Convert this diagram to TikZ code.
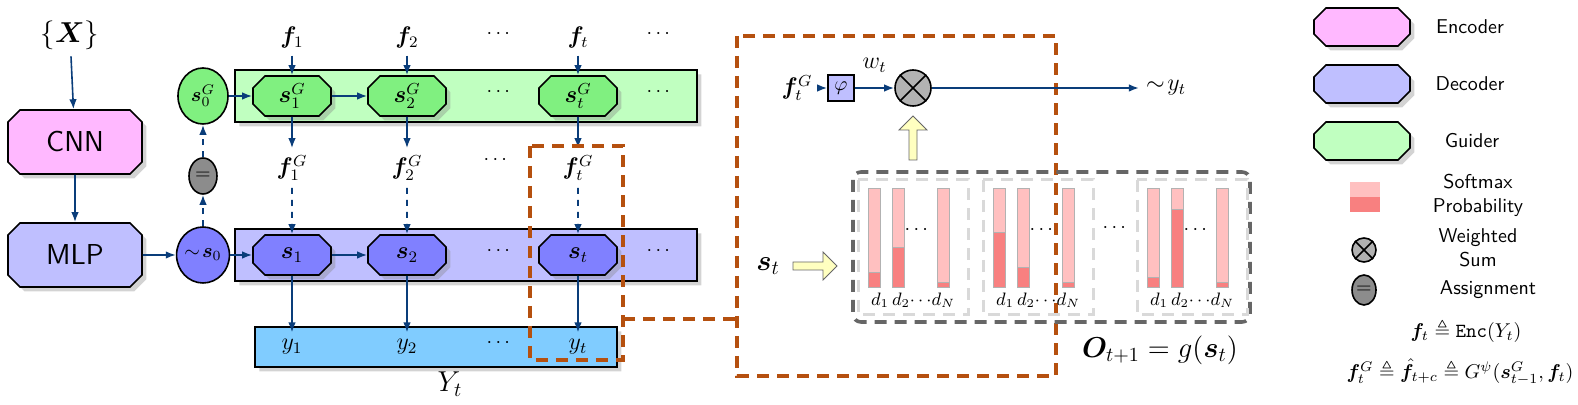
\documentclass[tikz,border=0pt]{standalone}
\usepackage{amsmath,amssymb,bm}
\usetikzlibrary{shapes.misc,shapes.geometric,shapes.arrows,shadows,arrows.meta,positioning}
\definecolor{navy}{HTML}{0A3D7A}
\definecolor{rust}{HTML}{B5500F}
\definecolor{encc}{HTML}{FFB8FF}
\definecolor{decband}{HTML}{BFBFFF}
\definecolor{decnode}{HTML}{8080FF}
\definecolor{guiband}{HTML}{C0FFC0}
\definecolor{guinode}{HTML}{80F080}
\definecolor{ycol}{HTML}{80CCFF}
\definecolor{barlo}{HTML}{FFC0C0}
\definecolor{barhi}{HTML}{F88080}
\definecolor{yel}{HTML}{FFFFC0}
\tikzset{
  cham/.style={chamfered rectangle, chamfered rectangle corners=all, chamfered rectangle sep=3pt, draw=black, thick, drop shadow={opacity=.35}},
  band/.style={cham, minimum width=#1, minimum height=26pt, inner sep=0pt},
  blk/.style={cham, minimum width=39pt, minimum height=20pt, inner sep=0pt},
  arr/.style={navy, thick, -{Latex[length=5pt]}},
  darr/.style={arr, dashed},
  circ/.style={ellipse, draw=black, thick, minimum width=25pt, minimum height=28pt, inner sep=0pt},
  fat/.style={single arrow, draw=black!60, fill=yel, minimum height=22pt, single arrow head extend=3pt, minimum width=14pt, inner sep=1pt},
  ob/.style={rust, line width=1.6pt, dash pattern=on 6pt off 4pt},
  lbl/.style={font=\sffamily}
}
\begin{document}
\begin{tikzpicture}[x=0.5pt,y=-0.5pt]
\useasboundingbox (0,0) rectangle (1578,405);

% encoder / MLP
\node (X) at (70,35) {\Large $\{\bm{X}\}$};
\node[cham, fill=encc, minimum width=67pt, minimum height=32pt] (cnn) at (75,142) {\Large\sffamily CNN};
\node[cham, fill=decband, minimum width=67pt, minimum height=32pt] (mlp) at (75,255) {\Large\sffamily MLP};
\draw[arr] (X) -- (cnn);
\draw[arr] (cnn) -- (mlp);

% bands
\node[band=231pt, fill=guiband] (gband) at (466,96) {};
\node[band=231pt, fill=decband] (dband) at (466,255) {};
\node[band=181pt, minimum height=20pt, fill=ycol] (yband) at (436,347) {};

% initial states
\node[circ, fill=guinode] (sg0) at (203,96) {$\bm{s}_0^G$};
\node[circ, fill=black!45, minimum width=14pt, minimum height=18pt] (eq) at (203,176) {$=$};
\node[circ, fill=decnode] (s0) at (203,255) {$\sim\!\bm{s}_0$};
\draw[arr] (mlp) -- (s0);
\draw[darr] (s0) -- (eq);
\draw[darr] (eq) -- (sg0);

% guider and decoder nodes
\foreach \i/\x in {1/292,2/407,t/578}{
  \node (f\i) at (\x,38) {\large $\bm{f}_{\i}$};
  \node[blk, fill=guinode] (sg\i) at (\x,96) {\large $\bm{s}_{\i}^G$};
  \node (fg\i) at (\x,168) {\large $\bm{f}_{\i}^G$};
  \node[blk, fill=decnode] (s\i) at (\x,255) {\large $\bm{s}_{\i}$};
  \node (y\i) at (\x,347) {\large $y_{\i}$};
  \draw[arr] (f\i) -- (sg\i);
  \draw[arr] (sg\i) -- (fg\i);
  \draw[darr] (fg\i) -- (s\i);
  \draw[arr] (s\i) -- (y\i.north);
}
\foreach \y in {38,96,255}{
  \node at (500,\y-4) {$\cdots$};
  \node at (660,\y-4) {$\cdots$};
}
\node at (497,160) {$\cdots$};
\node at (500,343) {$\cdots$};
\draw[arr] (sg0) -- (sg1);
\draw[arr] (sg1) -- (sg2);
\draw[arr] (s0) -- (s1);
\draw[arr] (s1) -- (s2);
\node (Y) at (450,384) {\Large $Y_t$};

% zoom boxes
\draw[ob] (530,146) rectangle (623,360);
\draw[ob] (737,36) rectangle (1056,376);
\coordinate (zl) at (623,319);
\coordinate (zr) at (737,319);
\draw[ob] (zl) -- (zr);

% attention detail
\node (fgt) at (797,88) {\large $\bm{f}_t^G$};
\node[draw=black, thick, fill=decband, minimum size=13pt, inner sep=0pt] (phi) at (841,88) {$\varphi$};
\node[circle, draw=black, thick, fill=black!30, minimum size=18pt, inner sep=0pt] (ot) at (913,88) {};
\draw[thick] (ot.north west) -- (ot.south east) (ot.north east) -- (ot.south west);
\node (yt) at (1166,88) {\large $\sim\!y_t$};
\draw[darr] (fgt) -- (phi);
\draw[arr] (phi) -- node[above, black, yshift=4pt] {\large $w_t$} (ot);
\draw[arr] (ot) -- (yt);
\node[fat, shape border rotate=90] (up) at (913,140) {};
\node (st) at (768,266) {\Large $\bm{s}_t$};
\node[fat] (rt) at (813,266) {};

% softmax outputs
\draw[black!60, line width=1.8pt, dash pattern=on 6pt off 4pt, rounded corners=4pt] (853,172) rectangle (1250,322);
\foreach \gx/\ga/\gb/\gc in {858/.15/.4/.05, 983/.55/.2/.05, 1137/.1/.78/.05}{
  \draw[black!15, line width=1.5pt, dash pattern=on 6pt off 4pt] (\gx,180) rectangle (\gx+110,315);
  \foreach \bx/\h in {10/\ga,34/\gb,79/\gc}{
    \fill[barlo, draw=black!30] (\gx+\bx,188) rectangle (\gx+\bx+12,287);
    \fill[barhi, draw=black!30] (\gx+\bx,287-99*\h) rectangle (\gx+\bx+12,287);
  }
  \node at (\gx+60,230) {$\cdots$};
  \node[font=\small] at (\gx+55,300) {$d_1\,d_2\!\cdots\! d_N$};
}
\node at (1116,228) {$\cdots$};
\node (Oeq) at (1160,350) {\Large $\bm{O}_{t+1}=g(\bm{s}_t)$};

% legend
\node[cham, fill=encc, minimum width=48pt, minimum height=19pt] (lenc) at (1362,27) {};
\node[lbl] at (1470,27) {Encoder};
\node[cham, fill=decband, minimum width=48pt, minimum height=19pt] (ldec) at (1362,84) {};
\node[lbl] at (1470,84) {Decoder};
\node[cham, fill=guiband, minimum width=48pt, minimum height=19pt] (lgui) at (1362,141) {};
\node[lbl] at (1472,141) {Guider};
\fill[barlo] (1350,182) rectangle (1380,197);
\fill[barhi] (1350,197) rectangle (1380,212);
\node[lbl, align=center] (lsm) at (1478,195) {Softmax\\Probability};
\node[circle, draw=black, thick, fill=black!30, minimum size=12pt, inner sep=0pt] (lws) at (1364,250) {};
\draw[thick] (lws.north west) -- (lws.south east) (lws.north east) -- (lws.south west);
\node[lbl, align=center] at (1478,248) {Weighted\\Sum};
\node[circ, fill=black!45, minimum width=12pt, minimum height=15pt] (leq) at (1364,290) {$=$};
\node[lbl] at (1488,290) {Assignment};
\node at (1466,331) {$\bm{f}_t \triangleq \texttt{Enc}(Y_t)$};
\node at (1460,372) {$\bm{f}_t^G \triangleq \hat{\bm{f}}_{t+c} \triangleq G^{\psi}(\bm{s}_{t-1}^G,\bm{f}_t)$};
\end{tikzpicture}
\end{document}
